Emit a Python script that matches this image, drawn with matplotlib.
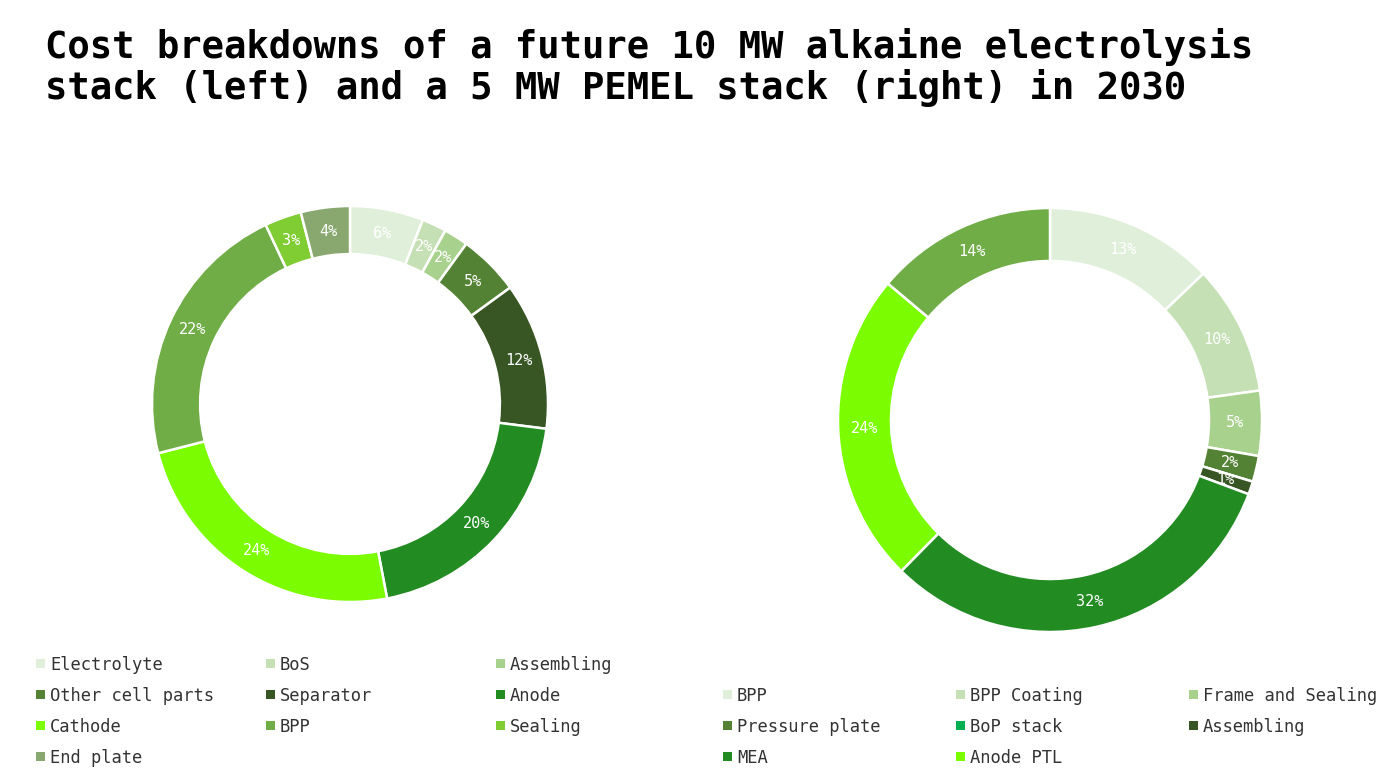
import matplotlib.pyplot as plt
from matplotlib.patches import Rectangle

# left: 10 MW alkaline stack
alk_names = ['Electrolyte', 'BoS', 'Assembling', 'Other cell parts', 'Separator',
             'Anode', 'Cathode', 'BPP', 'Sealing', 'End plate']
alk_values = [6, 2, 2, 5, 12, 20, 24, 22, 3, 4]
alk_colors = ['#e0efda', '#c5e0b4', '#a9d18e', '#548235', '#375623',
              '#228b22', '#7cfc00', '#70ad47', '#7fcc33', '#88a870']

# right: 5 MW PEMEL stack (last slice has no legend entry in the original)
pem_names = ['BPP', 'BPP Coating', 'Frame and Sealing', 'Pressure plate', 'BoP stack',
             'Assembling', 'MEA', 'Anode PTL', 'Cathode PTL']
pem_values = [13, 10, 5, 2, 0, 1, 32, 24, 14]
pem_colors = ['#e0efda', '#c5e0b4', '#a9d18e', '#548235', '#00b050',
              '#375623', '#228b22', '#7cfc00', '#70ad47']
pem_legend_n = 8

W, H = 1400, 777
fig = plt.figure(figsize=(W / 100, H / 100), dpi=100)
fig.patch.set_facecolor('white')

MONO = ['DejaVu Sans Mono']


def pct(p):
    return f'{p:.0f}%' if p >= 0.5 else ''


def donut(cx, cy, R, width, values, colors):
    ax = fig.add_axes([(cx - R) / W, (H - cy - R) / H, 2 * R / W, 2 * R / H])
    wedges, _, autotexts = ax.pie(
        values, colors=colors, startangle=90, counterclock=False,
        autopct=pct, pctdistance=1 - width / 2,
        wedgeprops=dict(width=width, edgecolor='white', linewidth=1.8))
    for t in autotexts:
        t.set_color('white')
        t.set_fontsize(11)
        t.set_family(MONO)
    ax.set_xlim(-1, 1)
    ax.set_ylim(-1, 1)
    ax.set_aspect('equal')
    ax.axis('off')
    return ax


donut(350, 404, 198, 0.243, alk_values, alk_colors)
donut(1050, 420, 212, 0.25, pem_values, pem_colors)

fig.text(45 / W, 1 - 28 / H,
         'Cost breakdowns of a future 10 MW alkaine electrolysis\n'
         'stack (left) and a 5 MW PEMEL stack (right) in 2030',
         ha='left', va='top', fontsize=26.8, fontweight='bold',
         family=MONO, color='black', linespacing=1.1)


def legend(names, colors, x0, row0, colw=230, rowh=31, y_first=663):
    for i, (name, col) in enumerate(zip(names, colors)):
        r, c = divmod(i, 3)
        x = x0 + c * colw
        y = y_first + (row0 + r) * rowh
        fig.patches.append(Rectangle(((x - 14) / W, 1 - (y + 4.5) / H), 9 / W, 9 / H,
                                     transform=fig.transFigure, facecolor=col,
                                     edgecolor='none'))
        fig.text(x / W, 1 - y / H, name, ha='left', va='center_baseline',
                 fontsize=12.3, family=MONO, color='#333333')


legend(alk_names, alk_colors, 50, 0)
legend(pem_names[:pem_legend_n], pem_colors[:pem_legend_n], 737, 1, colw=233)

fig.savefig('out.png', dpi=100, facecolor='white')
